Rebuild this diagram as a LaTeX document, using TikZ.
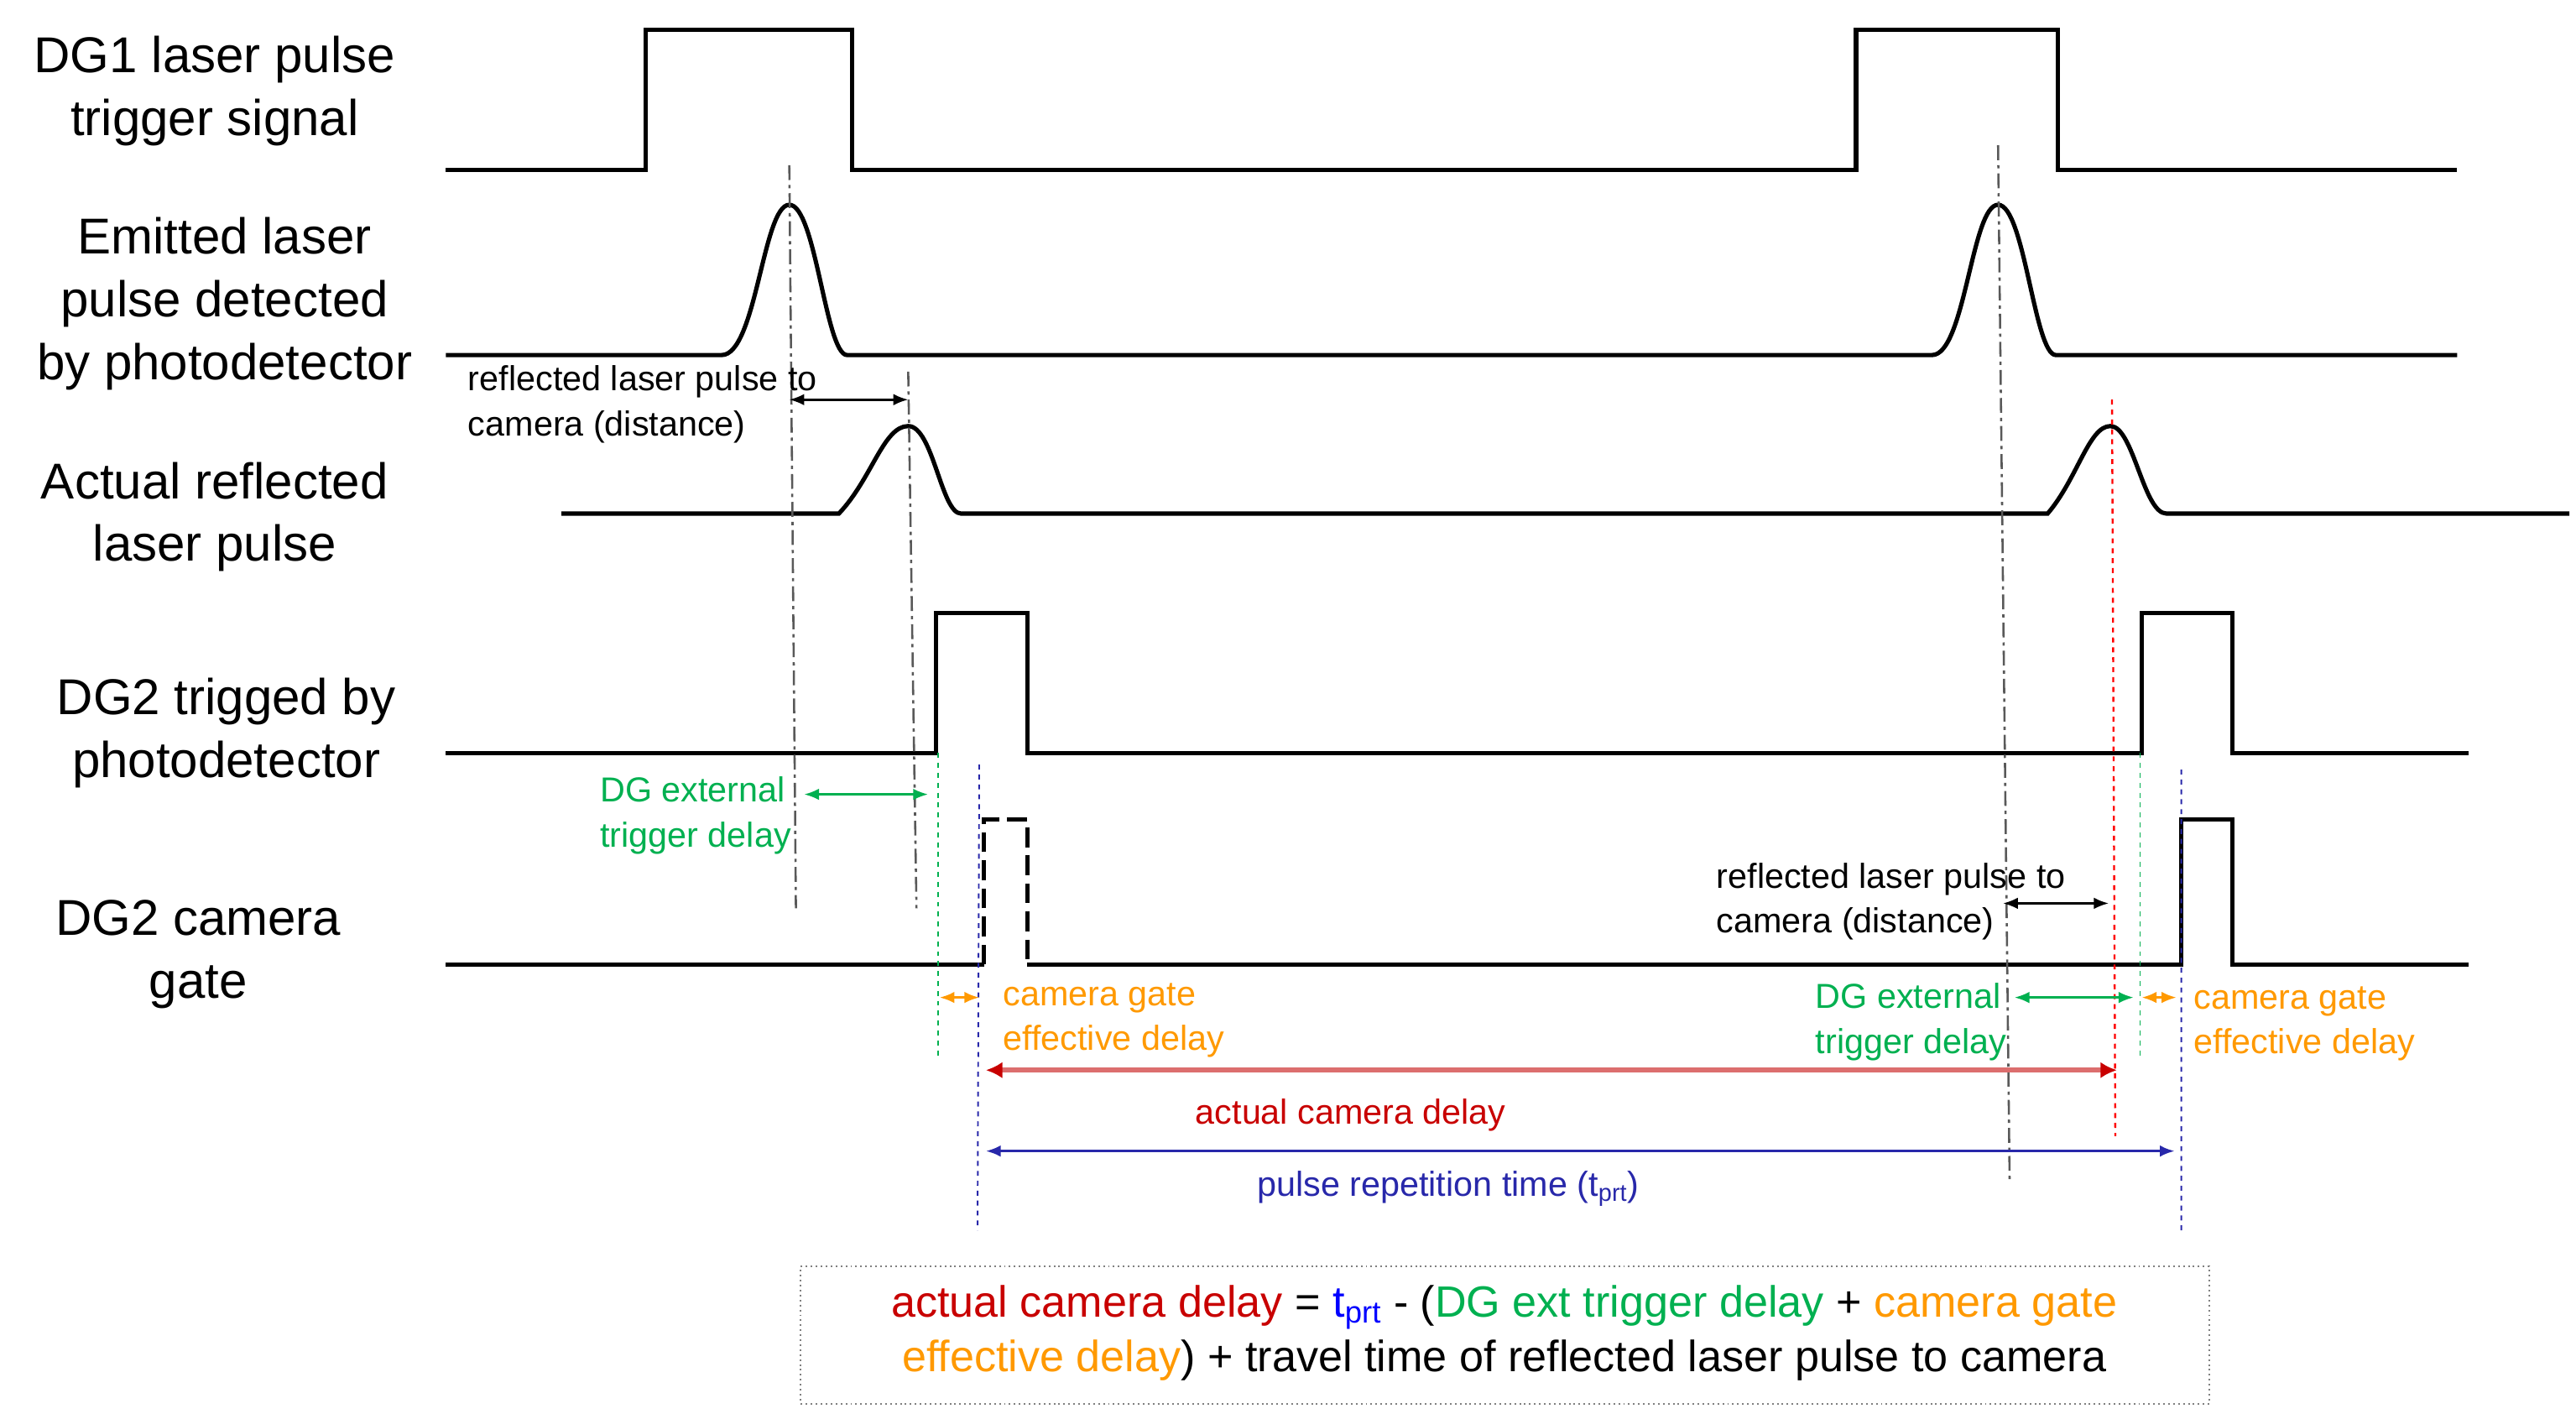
\documentclass[tikz,border=0pt]{standalone}
\usepackage{fontspec}
\setmainfont{Liberation Sans}
\usetikzlibrary{arrows.meta}
\definecolor{cg}{RGB}{0,176,80}
\definecolor{co}{RGB}{255,153,0}
\definecolor{cr}{RGB}{200,0,0}
\definecolor{cb}{RGB}{40,40,170}
\definecolor{lr}{RGB}{220,110,110}
\begin{document}
\begin{tikzpicture}[x=1pt,y=-1pt,
  sig/.style={line width=2.6pt,line join=miter},
  big/.style={align=center,font=\fontsize{30.5}{38}\selectfont},
  small/.style={align=left,font=\fontsize{21}{27}\selectfont},
  fdot/.style={gray!70!black,line width=1.3pt,dash pattern=on 9pt off 3pt on 2pt off 3pt},
  dbl/.style={{Latex[length=9pt,width=7pt]}-{Latex[length=9pt,width=7pt]}}]
\useasboundingbox (0,0) rectangle (1560,856);
% labels
\node[big] (l1) at (130,55) {DG1 laser pulse\\trigger signal};
\node[big] (l2) at (136,184) {Emitted laser\\pulse detected\\by photodetector};
\node[big] (l3) at (130,313) {Actual reflected\\laser pulse};
\node[big] (l4) at (137,444) {DG2 trigged by\\photodetector};
\node[big] (l5) at (120,578) {DG2 camera\\gate};
% signals
\draw[sig] (270,103) -- (391,103) -- (391,18) -- (516,18) -- (516,103) -- (1124,103) -- (1124,18) -- (1246,18) -- (1246,103) -- (1488,103);
\draw[sig] (270,215) -- (437,215) .. controls (458,215) and (462,124) .. (478,124) .. controls (494,124) and (500,215) .. (513,215) -- (1170,215) .. controls (1190,215) and (1194,124) .. (1210,124) .. controls (1226,124) and (1232,215) .. (1245,215) -- (1488,215);
\draw[sig] (340,311) -- (508,311) .. controls (528,290) and (535,258) .. (550,258) .. controls (565,258) and (570,311) .. (582,311) -- (1240,311) .. controls (1258,290) and (1265,258) .. (1278,258) .. controls (1292,258) and (1298,311) .. (1312,311) -- (1556,311);
\draw[sig] (270,456) -- (567,456) -- (567,371) -- (622,371) -- (622,456) -- (1297,456) -- (1297,371) -- (1352,371) -- (1352,456) -- (1495,456);
\draw[sig] (270,584) -- (596,584) (622,584) -- (1321,584) -- (1321,496) -- (1352,496) -- (1352,584) -- (1495,584);
\draw[sig,dash pattern=on 12pt off 5pt] (596,584) -- (596,496) -- (622,496) -- (622,584);
% guide lines
\coordinate (g1a) at (478,100); \coordinate (g1b) at (482,550);
\coordinate (g2a) at (550,225); \coordinate (g2b) at (555,550);
\coordinate (g3a) at (1210,88); \coordinate (g3b) at (1217,715);
\draw[fdot] (g1a) -- (g1b); \draw[fdot] (g2a) -- (g2b); \draw[fdot] (g3a) -- (g3b);
\draw[red,line width=1.2pt,dashed] (1279,242) -- (1281,688);
\draw[cg,line width=1pt,dashed] (568,456) -- (568,640) (1296,456) -- (1296,640);
\draw[cb,line width=1pt,dashed] (593,463) -- (592,745) (1321,466) -- (1321,745);
% arrows & labels
\coordinate (a1) at (478,242); \coordinate (a2) at (550,242);
\draw[dbl,line width=1.3pt] (a1) -- (a2);
\node[small,anchor=north west] (t1) at (280,218) {reflected laser pulse to\\camera (distance)};
\coordinate (b1) at (487,481); \coordinate (b2) at (562,481);
\draw[dbl,cg,line width=1.3pt] (b1) -- (b2);
\node[small,cg,anchor=north west] (t2) at (360,467) {DG external\\trigger delay};
\coordinate (c1) at (569,604); \coordinate (c2) at (593,604);
\draw[dbl,co,line width=1.5pt] (c1) -- (c2);
\node[small,co,anchor=north west] (t3) at (604,592) {camera gate\\effective delay};
\coordinate (d1) at (1213,547); \coordinate (d2) at (1277,547);
\draw[dbl,line width=1.3pt] (d1) -- (d2);
\node[small,anchor=north west] (t4) at (1036,519) {reflected laser pulse to\\camera (distance)};
\coordinate (e1) at (1220,604); \coordinate (e2) at (1292,604);
\draw[dbl,cg,line width=1.3pt] (e1) -- (e2);
\node[small,cg,anchor=north west] (t5) at (1096,592) {DG external\\trigger delay};
\coordinate (f1) at (1297,604); \coordinate (f2) at (1318,604);
\draw[dbl,co,line width=1.5pt] (f1) -- (f2);
\node[small,co,anchor=north west] (t6) at (1325,594) {camera gate\\effective delay};
\coordinate (r1) at (597,648); \coordinate (r2) at (1282,648);
\draw[lr,line width=3pt,{Latex[length=10pt,width=10pt,color=cr]}-{Latex[length=10pt,width=10pt,color=cr]}] (r1) -- (r2);
\node[small,cr] (t7) at (818,675) {actual camera delay};
\coordinate (p1) at (597,697); \coordinate (p2) at (1317,697);
\draw[dbl,cb,line width=1.6pt] (p1) -- (p2);
\node[small,cb] (t8) at (877,720) {pulse repetition time (t\textsubscript{prt})};
% formula box
\node[draw,gray,dotted,line width=1pt,minimum width=853pt,minimum height=83pt] (box) at (911.5,808.5) {};
\node[align=center,font=\fontsize{26.5}{33}\selectfont] (ft) at (911,807) {\textcolor{cr}{actual camera delay} = \textcolor{blue}{t\textsubscript{prt}} - (\textcolor{cg}{DG ext trigger delay} + \textcolor{co}{camera gate}\\\textcolor{co}{effective delay}) + travel time of reflected laser pulse to camera};
\end{tikzpicture}
\end{document}
